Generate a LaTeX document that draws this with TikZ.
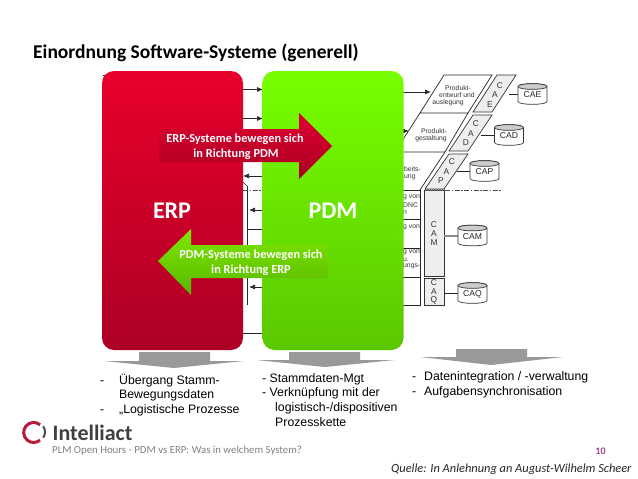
\documentclass[tikz,border=0pt]{standalone}
\usepackage{fontspec}
\setmainfont{Liberation Sans}
\newfontfamily\carl{Carlito}
\usetikzlibrary{arrows.meta}
\definecolor{erpA}{HTML}{E8002A}
\definecolor{erpB}{HTML}{AD0026}
\definecolor{pdmA}{HTML}{77FF00}
\definecolor{pdmB}{HTML}{5AC800}
\definecolor{grA}{HTML}{7FE600}
\definecolor{grB}{HTML}{58B800}
\definecolor{rdA}{HTML}{E00030}
\definecolor{rdB}{HTML}{A80022}
\definecolor{ctafill}{HTML}{EEEEEE}
\tikzset{
  x=1pt,y=-1pt,
  thinline/.style={line width=0.7pt,draw=black!85},
  conn/.style={line width=0.7pt,draw=black!85},
  connarrow/.style={conn,-{Latex[length=6pt,width=5pt]}},
  dashline/.style={line width=0.6pt,draw=black!70,dash pattern=on 5pt off 1.5pt on 1.5pt off 1.5pt},
  smalltext/.style={font=\fontsize{6.8}{7.5}\selectfont,text=black!80,inner sep=0pt},
  ctaletter/.style={font=\fontsize{8.4}{9}\selectfont,text=black!80,inner sep=0pt},
  ctabox/.style={line width=0.7pt,draw=black!80,fill=ctafill},
  dbbox/.style={minimum width=29pt,minimum height=20pt,inner sep=0pt,
     font=\fontsize{8.6}{9}\selectfont,text=black!85},
  bigbox/.style={rounded corners=12pt,minimum width=141pt,minimum height=279pt,inner sep=0pt},
  biglabel/.style={inner sep=0pt,font=\carl\bfseries\fontsize{24}{28}\selectfont,text=white},
  greyarrow/.style={fill=black!40},
  arrowtext/.style={font=\carl\bfseries\fontsize{12.3}{14}\selectfont,text=white,inner sep=0pt},
  body/.style={font=\fontsize{12.3}{14}\selectfont,text=black,inner sep=0pt,anchor=base west},
}
% a database drum: name, centre x, centre y, label
\newcommand{\drum}[4]{%
  \begin{scope}[shift={(#2,#3)}]
    \path[fill=white,draw=black!80,line width=0.7pt] (-14.5,-7.5) -- (-14.5,7.5)
       .. controls (-14.5,11.3) and (14.5,11.3) .. (14.5,7.5) -- (14.5,-7.5)
       .. controls (14.5,-11.3) and (-14.5,-11.3) .. (-14.5,-7.5) -- cycle;
    \path[fill=black!20,draw=black!80,line width=0.7pt] (-14.5,-7.5)
       .. controls (-14.5,-11.3) and (14.5,-11.3) .. (14.5,-7.5)
       .. controls (14.5,-3.7) and (-14.5,-3.7) .. (-14.5,-7.5) -- cycle;
  \end{scope}
  \node[dbbox] (#1) at (#2,#3+1) {#4};}
\begin{document}
\begin{tikzpicture}
\useasboundingbox (0,0) rectangle (638,479);
% title
\node[anchor=west,inner sep=0pt,font=\carl\bfseries\fontsize{19.5}{22}\selectfont,text=black] (title) at (33,53) {Einordnung Software-Systeme (generell)};

% coordinates of the process chain behind the two boxes
\coordinate (la) at (243,89.5); \coordinate (lb) at (263,89.5);
\coordinate (ma) at (243,118.5); \coordinate (mb) at (263,118.5);
\coordinate (na) at (243,176); \coordinate (nb) at (263,176);
\coordinate (oa) at (249,210); \coordinate (ob) at (263,210);
\coordinate (pa) at (249,287); \coordinate (pb) at (263,287);
\coordinate (qa) at (247,229); \coordinate (qb) at (263,229);
\coordinate (ra) at (243,333); \coordinate (rb) at (263,333);
\coordinate (sa) at (247,186); \coordinate (sb) at (247,305);
\coordinate (ta) at (243,190); \coordinate (tb) at (263,190);
\coordinate (topa) at (103,75); \coordinate (topb) at (110,75);
\draw[conn] (topa) -- (topb);
\draw[connarrow] (la) -- (lb);
\draw[connarrow] (ma) -- (mb);
\draw[connarrow] (nb) -- (na);
\draw[connarrow] (ob) -- (oa);
\draw[connarrow] (pb) -- (pa);
\draw[conn] (qa) -- (qb);
\draw[conn] (ra) -- (rb);
\draw[conn] (sa) -- (sb);
\draw[conn] (243,182) -- (sa);
\draw[dashline] (ta) -- (tb);

% right-hand process chain
\draw[thinline] (444,75) -- (492,75) -- (468,113) -- (420,113) -- cycle;
\draw[thinline] (420,113) -- (395,152) -- (445,152);
\draw[thinline] (468,113) -- (445,152) -- (420,190);
\draw[thinline] (403,190) -- (420,190) -- (420,305) -- (403,305);
\draw[thinline] (403,219) -- (420,219);
\draw[thinline] (403,248) -- (420,248);
\draw[thinline] (403,277) -- (420,277);
\coordinate (arA) at (403,92); \coordinate (arB) at (431,92);
\coordinate (arC) at (403,131); \coordinate (arD) at (409,131);
\draw[connarrow] (arA) -- (arB);
\draw[connarrow] (arC) -- (arD);

\node[smalltext] (t1) at (458,88) {Produkt-};
\node[smalltext] (t2) at (457,95.5) {entwurf und};
\node[smalltext] (t3) at (448,103) {auslegung};
\node[smalltext] (t4) at (434,131) {Produkt-};
\node[smalltext] (t5) at (431,139) {gestaltung};
\node[smalltext,anchor=west] (t6) at (404,169) {beits-};
\node[smalltext,anchor=west] (t7) at (404,177) {ung};
\node[smalltext,anchor=west] (t8) at (403,197) {g von};
\node[smalltext,anchor=west] (t9) at (403,205) {DNC};
\node[smalltext,anchor=west] (t10) at (403,213) {n};
\node[smalltext,anchor=west] (t11) at (403,227) {g von};
\node[smalltext,anchor=west] (t12) at (403,252) {g von};
\node[smalltext,anchor=west] (t13) at (403,260) {u.};
\node[smalltext,anchor=west] (t14) at (403,266.5) {ungs-};

% CAx elements
\draw[ctabox] (497,75) -- (516,75) -- (492,112) -- (473,112) -- cycle;
\draw[ctabox] (473,115) -- (492,115) -- (468,151) -- (449,151) -- cycle;
\draw[ctabox] (449,154) -- (468,154) -- (444,189) -- (425,189) -- cycle;
\node[ctabox,inner sep=0pt,minimum width=20pt,minimum height=86pt] (cam) at (434,233) {};
\node[ctabox,inner sep=0pt,minimum width=20pt,minimum height=27pt] (caq) at (434,291.5) {};
\draw[line width=1.6pt,black!60,dash pattern=on 1pt off 0.7pt] (425,190) -- (444,190);
\coordinate (eae) at (509,94); \coordinate (ead) at (481,135); \coordinate (eap) at (457,171);

\foreach \l/\px/\py/\n in {C/500/86/a1,A/495/95/a2,E/490/104.5/a3,C/476/124/b1,A/471/134/b2,D/466/143/b3,C/452/162/c1,A/446.5/172/c2,P/441/181/c3,C/434/225/d1,A/434/234/d2,M/434/243/d3,C/434/283/e1,A/434/291.5/e2,Q/434/300.5/e3}
  \node[ctaletter] (\n) at (\px,\py) {\l};

\draw[conn] (eae) -- (518,94);
\draw[conn] (ead) -- (494.5,135);
\draw[conn] (eap) -- (470,171);
\draw[line width=1.1pt,black!45] (444,236) -- (458,236);
\draw[conn] (444,293) -- (458,293);
\drum{cae}{532.5}{94}{CAE}
\drum{cad}{509}{135}{CAD}
\drum{cap}{484.5}{171}{CAP}
\drum{camdb}{472.5}{235.5}{CAM}
\drum{caqdb}{472.5}{293}{CAQ}
\coordinate (dashA) at (445,190); \coordinate (dashB) at (502,190);
\draw[dashline] (dashA) -- (dashB);

% main boxes
\node[bigbox,top color=erpA,bottom color=erpB] (erp) at (172.5,210.5) {};
\node[bigbox,top color=pdmA,bottom color=pdmB] (pdm) at (333,210.5) {};
\node[biglabel] (erpl) at (172,211) {ERP};
\node[biglabel] (pdml) at (333,211) {PDM};

% block arrows
\path[top color=rdA,bottom color=rdB] (159,129) -- (299,129) -- (299,113) -- (332,146) -- (299,179) -- (299,162) -- (159,162) -- cycle;
\node[arrowtext] (at1) at (235,139) {ERP-Systeme bewegen sich};
\node[arrowtext] (at2) at (236,154) {in Richtung PDM};
\path[top color=grA,bottom color=grB] (328,245) -- (191,245) -- (191,229) -- (158,261) -- (191,295) -- (191,278) -- (328,278) -- cycle;
\node[arrowtext] (at3) at (251,255) {PDM-Systeme bewegen sich};
\node[arrowtext] (at4) at (251,270) {in Richtung ERP};

% grey arrows
\fill[greyarrow] (139,352) -- (210,352) -- (210,361) -- (244,361) -- (174,368) -- (104,361) -- (139,361) -- cycle;
\fill[greyarrow] (289,352) -- (360,352) -- (360,360) -- (395,360) -- (325,367) -- (256,360) -- (289,360) -- cycle;
\fill[greyarrow] (456,349) -- (527,349) -- (527,357) -- (563,357) -- (491,365) -- (420,357) -- (456,357) -- cycle;

% body texts
\node[body] (b1) at (100,384) {-};
\node[body] (b2) at (119,384) {Übergang Stamm-};
\node[body] (b3) at (119,398) {Bewegungsdaten};
\node[body] (b4) at (100,413) {-};
\node[body] (b5) at (119,413) {„Logistische Prozesse};
\node[body] (c1x) at (262,382) {- Stammdaten-Mgt};
\node[body] (c2x) at (262,396) {- Verknüpfung mit der};
\node[body] (c3x) at (275,411) {logistisch-/dispositiven};
\node[body] (c4x) at (275,426) {Prozesskette};
\node[body] (d1x) at (412,380) {-};
\node[body] (d2x) at (424,380) {Datenintegration / -verwaltung};
\node[body] (d3x) at (412,395) {-};
\node[body] (d4x) at (424,395) {Aufgabensynchronisation};

% logo and footer
\draw[line width=3pt,color=erpB!90!white] (40.1,424.8) arc[start angle=50,end angle=310,radius=10pt];
\draw[line width=2pt,color=black!70] (43.2,437.7) arc[start angle=-35,end angle=35,radius=10pt];
\node[anchor=west,inner sep=0pt,font=\carl\bfseries\fontsize{22}{26}\selectfont,text=black!75] (logo) at (52.5,433) {Intelliact};
\node[anchor=west,inner sep=0pt,font=\carl\fontsize{10.8}{12}\selectfont,text=black!50] (foot) at (52,451) {PLM Open Hours  - PDM vs ERP: Was in welchem System?};
\node[inner sep=0pt,font=\carl\fontsize{10}{12}\selectfont,text=erpB!70!blue] (pg) at (600.5,451) {10};
\node[anchor=west,inner sep=0pt,font=\carl\itshape\fontsize{12.4}{14}\selectfont,text=black!85] (src) at (391,469) {Quelle: In Anlehnung an August-Wilhelm Scheer};
\end{tikzpicture}
\end{document}
